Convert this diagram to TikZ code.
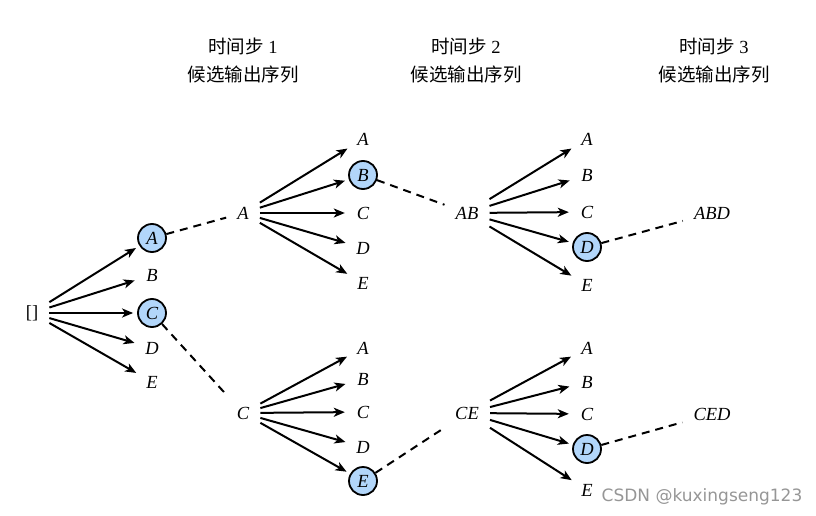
\documentclass[tikz,border=0pt]{standalone}
\usepackage{fontspec}
\setmainfont{Liberation Serif}
\newfontfamily\cjk{Noto Sans CJK SC}
\newfontfamily\wmfont{DejaVu Sans}
\usetikzlibrary{arrows.meta}
\definecolor{sel}{RGB}{178,214,250}
\definecolor{wmgray}{RGB}{150,150,150}
\tikzset{
  lbl/.style={circle,minimum size=28pt,inner sep=0pt,font=\fontsize{18.5}{20}\selectfont\itshape},
  chosen/.style={lbl,draw=black,line width=1.8pt,fill=sel},
  par/.style={rectangle,inner xsep=11pt,inner ysep=12pt,font=\fontsize{18.5}{20}\selectfont\itshape},
  arr/.style={line width=2pt,-{Stealth[length=11pt,width=9pt,inset=3pt]},shorten >=4pt},
  dsh/.style={line width=2pt,dash pattern=on 8pt off 6pt},
  hdr/.style={align=center,font=\fontsize{18.5}{28}\selectfont}
}
\begin{document}
\begin{tikzpicture}[x=1pt,y=-1pt]
\useasboundingbox (0,0) rectangle (816,516);
% headers
\node[hdr] (h1) at (243,61) {{\cjk 时间步} 1\\{\cjk 候选输出序列}};
\node[hdr] (h2) at (466,61) {{\cjk 时间步} 2\\{\cjk 候选输出序列}};
\node[hdr] (h3) at (714,61) {{\cjk 时间步} 3\\{\cjk 候选输出序列}};
% root
\node[par,font=\fontsize{18.5}{20}\selectfont\upshape] (r) at (32,313) {[]};
% level 1
\node[chosen] (aA) at (152,238) {A};
\node[lbl] (aB) at (152,275) {B};
\node[chosen] (aC) at (152,313) {C};
\node[lbl] (aD) at (152,348) {D};
\node[lbl] (aE) at (152,382) {E};
\foreach \n in {aA,aB,aC,aD,aE} \draw[arr] (r) -- (\n);
% level 2 parents
\node[par] (pA) at (243,213) {A};
\node[par] (pC) at (243,413) {C};
\draw[dsh] (aA) -- (pA);
\draw[dsh] (aC) -- (pC);
% top children
\node[lbl] (tA) at (363,139) {A};
\node[chosen] (tB) at (363,175) {B};
\node[lbl] (tC) at (363,213) {C};
\node[lbl] (tD) at (363,248) {D};
\node[lbl] (tE) at (363,283) {E};
\foreach \n in {tA,tB,tC,tD,tE} \draw[arr] (pA) -- (\n);
% bottom children
\node[lbl] (bA) at (363,348) {A};
\node[lbl] (bB) at (363,379) {B};
\node[lbl] (bC) at (363,412) {C};
\node[lbl] (bD) at (363,447) {D};
\node[chosen] (bE) at (363,481) {E};
\foreach \n in {bA,bB,bC,bD,bE} \draw[arr] (pC) -- (\n);
% level 3 parents
\node[par] (pAB) at (467,213) {AB};
\node[par] (pCE) at (467,413) {CE};
\draw[dsh] (tB) -- (pAB);
\draw[dsh] (bE) -- (pCE);
% top right children
\node[lbl] (uA) at (587,139) {A};
\node[lbl] (uB) at (587,175) {B};
\node[lbl] (uC) at (587,212) {C};
\node[chosen] (uD) at (587,247) {D};
\node[lbl] (uE) at (587,285) {E};
\foreach \n in {uA,uB,uC,uD,uE} \draw[arr] (pAB) -- (\n);
% bottom right children
\node[lbl] (vA) at (587,348) {A};
\node[lbl] (vB) at (587,382) {B};
\node[lbl] (vC) at (587,414) {C};
\node[chosen] (vD) at (587,449) {D};
\node[lbl] (vE) at (587,490) {E};
\foreach \n in {vA,vB,vC,vD,vE} \draw[arr] (pCE) -- (\n);
% final
\node[par] (pABD) at (712,213) {ABD};
\node[par] (pCED) at (712,414) {CED};
\draw[dsh] (uD) -- (pABD);
\draw[dsh] (vD) -- (pCED);
% watermark
\node[font=\wmfont\fontsize{17}{20}\selectfont,text=wmgray,inner sep=0pt] (wm) at (702,497) {CSDN @kuxingseng123};
\end{tikzpicture}
\end{document}
